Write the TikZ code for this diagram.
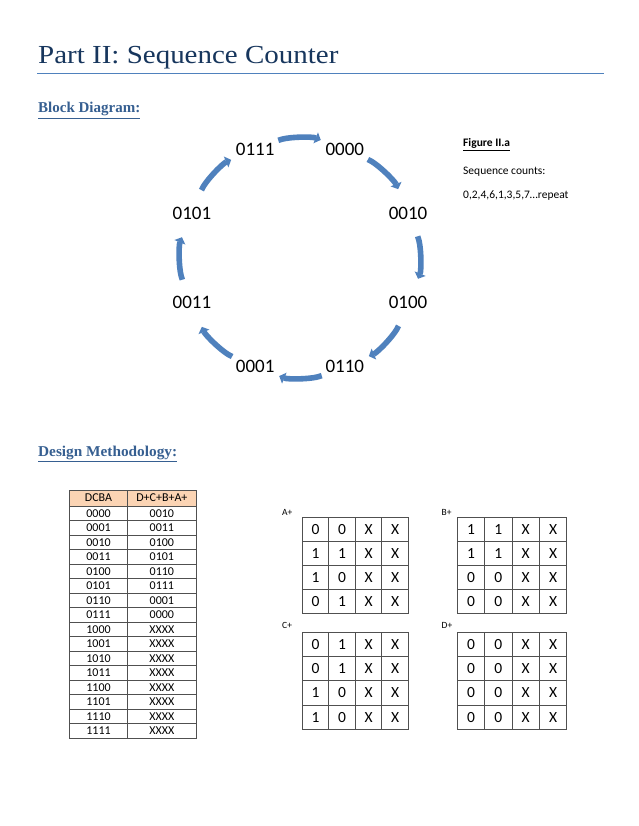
\documentclass[tikz,border=0pt]{standalone}
\usepackage{fontspec}
\setmainfont{Carlito}
\newfontfamily\headfont{Liberation Serif}
\usetikzlibrary{arrows.meta}
\definecolor{titleblue}{HTML}{17365D}
\definecolor{headblue}{HTML}{365F91}
\definecolor{accent}{HTML}{4F81BD}
\definecolor{peach}{HTML}{FBD4B4}
\definecolor{gridgray}{HTML}{505050}
\begin{document}
\begin{tikzpicture}[x=1pt,y=-1pt,
  state/.style={inner sep=0pt, font=\fontsize{19}{22}\selectfont},
  flow/.style={accent, line width=5.6pt, shorten <=25pt, shorten >=26pt,
    -{Triangle[length=5.5pt,width=11.5pt]}},
  heading/.style={anchor=base west, inner sep=0pt, text=headblue,
    font=\headfont\bfseries\fontsize{15}{18}\selectfont},
  note/.style={anchor=base west, inner sep=0pt, font=\fontsize{11.5}{13}\selectfont},
  tcell/.style={draw=gridgray, line width=0.7pt, inner sep=0pt,
    minimum width=58.4pt, minimum height=14.5pt, font=\fontsize{12}{13}\selectfont},
  kcell/.style={draw=gridgray, line width=0.8pt, inner sep=0pt,
    font=\fontsize{15.5}{17}\selectfont},
  klabel/.style={anchor=base west, inner sep=0pt, font=\fontsize{9.5}{11}\selectfont}]
\useasboundingbox (0,0) rectangle (638,826);
\fill[white] (0,0) rectangle (638,826);

% title
\node[anchor=base west, inner sep=0pt, text=titleblue,
  font=\headfont\fontsize{26}{30}\selectfont] (title) at (38,63.5) {\scalebox{1.115}[1]{Part II: Sequence Counter}};
\draw[accent, line width=1.2pt] (37,73.5) -- (604,73.5);

\node[heading] (bd) at (38,113) {\underline{Block Diagram:}};

% state circle
\node[state] (s0000) at (344.8,149.9) {0000};
\node[state] (s0010) at (408.1,213.2) {0010};
\node[state] (s0100) at (408.1,302.8) {0100};
\node[state] (s0110) at (344.8,366.1) {0110};
\node[state] (s0001) at (255.2,366.1) {0001};
\node[state] (s0011) at (191.9,302.8) {0011};
\node[state] (s0101) at (191.9,213.2) {0101};
\node[state] (s0111) at (255.2,149.9) {0111};

\draw[flow] (s0111.center) to[bend left=22.5] (s0000.center);
\draw[flow] (s0000.center) to[bend left=22.5] (s0010.center);
\draw[flow] (s0010.center) to[bend left=22.5] (s0100.center);
\draw[flow] (s0100.center) to[bend left=22.5] (s0110.center);
\draw[flow] (s0110.center) to[bend left=22.5] (s0001.center);
\draw[flow] (s0001.center) to[bend left=22.5] (s0011.center);
\draw[flow] (s0011.center) to[bend left=22.5] (s0101.center);
\draw[flow] (s0101.center) to[bend left=22.5] (s0111.center);

% figure notes
\node[note, font=\bfseries\fontsize{11.5}{13}\selectfont] (fig) at (463,146.5) {\underline{Figure II.a}};
\node[note] (seq) at (463,174.5) {Sequence counts:};
\node[note] (cnt) at (463,198.5) {0,2,4,6,1,3,5,7…repeat};

\node[heading] (dm) at (38,456.5) {\underline{\scalebox{1.02}[1]{Design Methodology:}}};

% truth table
\node[tcell, fill=peach, minimum height=16pt] (h1) at (98.5,498) {DCBA};
\node[tcell, fill=peach, minimum height=16pt, minimum width=68.3pt] (h2) at (161.85,498) {D+C+B+A+};
\foreach \a/\b [count=\i from 0] in {0000/0010,0001/0011,0010/0100,0011/0101,0100/0110,0101/0111,0110/0001,0111/0000,
  1000/XXXX,1001/XXXX,1010/XXXX,1011/XXXX,1100/XXXX,1101/XXXX,1110/XXXX,1111/XXXX}{
  \node[tcell] (t\i a) at (98.5,{506+14.5*\i+7.25}) {\a};
  \node[tcell, minimum width=68.3pt] (t\i b) at (161.85,{506+14.5*\i+7.25}) {\b};
}

% K-maps
\node[klabel] (lA) at (282,515.5) {A+};
\node[klabel] (lB) at (441.5,515.5) {B+};
\node[klabel] (lC) at (282,628.5) {C+};
\node[klabel] (lD) at (441.5,628.5) {D+};

\foreach \r/\row in {0/{0,0,X,X},1/{1,1,X,X},2/{1,0,X,X},3/{0,1,X,X}}{
  \foreach \v [count=\c from 0] in \row {
    \node[kcell, minimum width=26.5pt, minimum height=23.9pt] (A\r\c) at ({302.3+26.5*\c+13.25},{517.7+23.9*\r+11.95}) {\v};
  }
}
\foreach \r/\row in {0/{1,1,X,X},1/{1,1,X,X},2/{0,0,X,X},3/{0,0,X,X}}{
  \foreach \v [count=\c from 0] in \row {
    \node[kcell, minimum width=27.35pt, minimum height=23.9pt] (B\r\c) at ({457.3+27.35*\c+13.675},{517.7+23.9*\r+11.95}) {\v};
  }
}
\foreach \r/\row in {0/{0,1,X,X},1/{0,1,X,X},2/{1,0,X,X},3/{1,0,X,X}}{
  \foreach \v [count=\c from 0] in \row {
    \node[kcell, minimum width=26.5pt, minimum height=24.25pt] (C\r\c) at ({302.3+26.5*\c+13.25},{632.3+24.25*\r+12.125}) {\v};
  }
}
\foreach \r/\row in {0/{0,0,X,X},1/{0,0,X,X},2/{0,0,X,X},3/{0,0,X,X}}{
  \foreach \v [count=\c from 0] in \row {
    \node[kcell, minimum width=27.35pt, minimum height=24.25pt] (D\r\c) at ({457.3+27.35*\c+13.675},{632.3+24.25*\r+12.125}) {\v};
  }
}
\end{tikzpicture}
\end{document}
